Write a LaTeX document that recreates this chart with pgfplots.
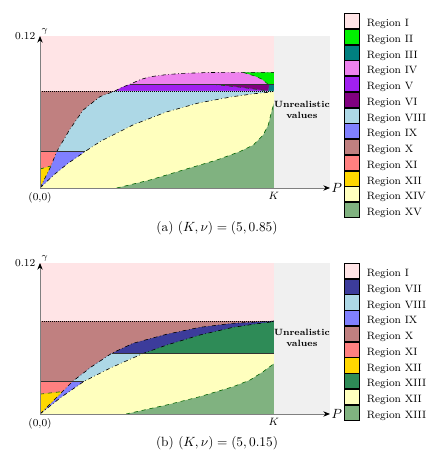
\documentclass[border=0pt]{standalone}
\usepackage{pgfplots}
\pgfplotsset{compat=1.18}
\usetikzlibrary{arrows.meta}
\definecolor{rI}{RGB}{255,228,230}
\definecolor{rII}{RGB}{0,240,0}
\definecolor{rIII}{RGB}{0,128,128}
\definecolor{rIV}{RGB}{238,130,238}
\definecolor{rV}{RGB}{160,32,240}
\definecolor{rVI}{RGB}{128,0,128}
\definecolor{rVII}{RGB}{60,60,155}
\definecolor{rVIII}{RGB}{173,216,230}
\definecolor{rIX}{RGB}{128,128,255}
\definecolor{rX}{RGB}{192,128,128}
\definecolor{rXI}{RGB}{255,128,128}
\definecolor{rXII}{RGB}{255,215,0}
\definecolor{rXIIId}{RGB}{46,139,87}
\definecolor{rXIV}{RGB}{255,255,190}
\definecolor{rXV}{RGB}{128,178,128}
\definecolor{unreal}{RGB}{240,240,240}
\definecolor{bgreen}{RGB}{0,100,0}
\pgfplotsset{
 panel/.style={
   scale only axis, width=217.5pt, xmin=0, xmax=6.2, ymin=0, ymax=0.12,
   axis lines=left,
   axis line style={draw=gray, line width=0.6pt, -{Stealth[black,length=5pt,width=4pt]}},
   xtick={0,5}, xticklabels={(0,0),$K$}, ytick={0.12}, yticklabels={$0.12$},
   major tick length=0pt, tick label style={font=\footnotesize},
   axis on top,
   every axis x label/.style={at={(axis description cs:1,0)}, anchor=west, font=\normalsize, inner sep=1pt},
   every axis y label/.style={at={(axis description cs:0,1)}, anchor=south west, font=\scriptsize, inner sep=1pt},
   xlabel={$P$}, ylabel={$\gamma$},
   legend cell align=left,
   legend image code/.code={\draw[##1,draw=black,line width=0.45pt] (0pt,-3.4pt) rectangle (11.25pt,7.96pt);},
   legend style={draw=none, fill=none, inner sep=0pt, outer sep=0pt, row sep=0pt, column sep=5.5pt,
     font=\fontsize{8}{9}\selectfont, nodes={inner sep=0pt, outer sep=0pt}, anchor=north west},
 },
 reg/.style={fill=#1, draw=none, forget plot},
 bnd/.style={forget plot, black, line width=0.45pt, dash dot},
 gbnd/.style={forget plot, bgreen, line width=0.45pt, dashed},
 sln/.style={forget plot, black!80, line width=0.6pt},
}
\begin{document}
\begin{tikzpicture}
\useasboundingbox (0,0) rectangle (323.25pt,344.25pt);
% ---------------- panel (a)
\begin{axis}[panel, height=114pt, at={(30pt,203.25pt)}, anchor=south west,
  legend style={at={(1.048,1.151)}}]
\addplot[reg=rI] coordinates {(0,0) (5,0) (5,0.12) (0,0.12)} -- cycle;
\addplot[reg=unreal] coordinates {(5,0) (6.2,0) (6.2,0.12) (5,0.12)} -- cycle;
\addplot[reg=rX] coordinates {(0,0) (5,0) (5,0.0766) (0,0.0766)} -- cycle;
% V
\addplot[reg=rV] coordinates {(1.603,0.0766) (1.75,0.0795) (1.92,0.0818) (5,0.0818) (5,0.0766)} -- cycle;
% IV
\addplot[reg=rIV] coordinates {(1.92,0.0818) (2.14,0.0855) (2.35,0.0878) (2.7,0.0895) (3.06,0.0905) (3.63,0.0912) (5,0.0913) (5,0.0818)} -- cycle;
% II
\addplot[reg=rII] coordinates {(4.34,0.0913) (5,0.0913) (5,0.0818) (4.88,0.0818) (4.74,0.0860) (4.59,0.0884)} -- cycle;
% VI
\addplot[reg=rVI] coordinates {(3.70,0.0818) (4.9,0.0818) (4.88,0.0766) (4.65,0.0778) (4.3,0.0795)} -- cycle;
% III
\addplot[reg=rIII] coordinates {(4.9,0.0818) (5,0.0818) (5,0.0766) (4.88,0.0766)} -- cycle;
% VIII
\addplot[reg=rVIII] coordinates {(0,0) (0.235,0.0174) (0.357,0.0287) (0.641,0.0465) (0.925,0.0616) (1.282,0.0721) (1.603,0.0766) (5,0.0766) (5,0)} -- cycle;
% XIV
\addplot[reg=rXIV] coordinates {(0,0) (0.3,0.0105) (0.6,0.0195) (0.96,0.0287) (1.3,0.037) (2.0,0.050) (2.7,0.060) (3.4,0.0672) (4.1,0.0720) (4.6,0.0745) (5,0.0760) (5,0)} -- cycle;
% XV
\addplot[reg=rXV] coordinates {(1.64,0) (2.35,0.0063) (3.06,0.0142) (3.78,0.0221) (4.27,0.0287) (4.56,0.0339) (4.77,0.0418) (4.88,0.0497) (4.95,0.0602) (5,0.0669) (5,0)} -- cycle;
% IX, XI, XII
\addplot[reg=rIX] coordinates {(0,0) (0.235,0.0174) (0.357,0.0287) (0.96,0.0287) (0.6,0.0195) (0.3,0.0105)} -- cycle;
\addplot[reg=rXI] coordinates {(0,0.0150) (0.235,0.0174) (0.357,0.0287) (0,0.0287)} -- cycle;
\addplot[reg=rXII] coordinates {(0,0) (0.235,0.0174) (0,0.0150)} -- cycle;
% boundaries
\addplot[bnd] coordinates {(0,0) (0.235,0.0174) (0.357,0.0287) (0.641,0.0465) (0.925,0.0616) (1.282,0.0721) (1.603,0.0766)};
\addplot[bnd] coordinates {(0,0) (0.3,0.0105) (0.6,0.0195) (0.96,0.0287) (1.3,0.037) (2.0,0.050) (2.7,0.060) (3.4,0.0672) (4.1,0.0720) (4.6,0.0745) (5,0.0760)};
\addplot[bnd] coordinates {(1.603,0.0766) (1.75,0.0795) (1.92,0.0818) (2.14,0.0855) (2.35,0.0878) (2.7,0.0895) (3.06,0.0905) (3.63,0.0912) (5,0.0913)};
\addplot[forget plot, black, line width=0.5pt, densely dotted] coordinates {(0,0.0766) (5,0.0766)};
\addplot[gbnd] coordinates {(1.64,0) (2.35,0.0063) (3.06,0.0142) (3.78,0.0221) (4.27,0.0287) (4.56,0.0339) (4.77,0.0418) (4.88,0.0497) (4.95,0.0602) (5,0.0669)};
\addplot[gbnd] coordinates {(4.34,0.0913) (4.59,0.0884) (4.74,0.0860) (4.88,0.0818)};
\addplot[gbnd] coordinates {(3.70,0.0818) (4.3,0.0795) (4.65,0.0778) (4.88,0.0766)};
\addplot[gbnd] coordinates {(0,0.0150) (0.235,0.0174)};
\addplot[sln] coordinates {(0,0.0287) (0.96,0.0287)};
\addplot[sln] coordinates {(1.92,0.0818) (5,0.0818)};
\node[font=\fontsize{6.8}{8}\selectfont\bfseries, align=center] at (axis cs:5.6,0.0616) {Unrealistic\\values};
\addlegendimage{fill=rI}\addlegendentry{Region I}
\addlegendimage{fill=rII}\addlegendentry{Region II}
\addlegendimage{fill=rIII}\addlegendentry{Region III}
\addlegendimage{fill=rIV}\addlegendentry{Region IV}
\addlegendimage{fill=rV}\addlegendentry{Region V}
\addlegendimage{fill=rVI}\addlegendentry{Region VI}
\addlegendimage{fill=rVIII}\addlegendentry{Region VIII}
\addlegendimage{fill=rIX}\addlegendentry{Region IX}
\addlegendimage{fill=rX}\addlegendentry{Region X}
\addlegendimage{fill=rXI}\addlegendentry{Region XI}
\addlegendimage{fill=rXII}\addlegendentry{Region XII}
\addlegendimage{fill=rXIV}\addlegendentry{Region XIV}
\addlegendimage{fill=rXV}\addlegendentry{Region XV}
\end{axis}
% ---------------- panel (b)
\begin{axis}[panel, height=113.25pt, at={(30pt,33.75pt)}, anchor=south west,
  legend style={at={(1.048,1.0)}}]
\addplot[reg=rI] coordinates {(0,0) (5,0) (5,0.12) (0,0.12)} -- cycle;
\addplot[reg=unreal] coordinates {(5,0) (6.2,0) (6.2,0.12) (5,0.12)} -- cycle;
\addplot[reg=rX] coordinates {(0,0) (5,0) (5,0.0739) (0,0.0739)} -- cycle;
% VII
\addplot[reg=rVII] coordinates {(0,0) (0.48,0.0178) (0.69,0.0257) (1.1,0.0375) (1.53,0.0482) (1.99,0.0562) (2.71,0.0634) (3.42,0.0689) (4.13,0.0721) (4.77,0.0734) (5,0.0739) (5,0)} -- cycle;
% XIII dark
\addplot[reg=rXIIId] coordinates {(0,0) (0.45,0.0133) (0.93,0.0257) (1.5,0.0365) (2.21,0.0482) (2.71,0.0548) (3.42,0.0628) (4.13,0.0689) (4.6,0.0715) (5,0.0734) (5,0)} -- cycle;
% VIII
\addplot[reg=rVIII] coordinates {(0,0) (0.48,0.0178) (0.69,0.0257) (1.1,0.0375) (1.53,0.0482) (5,0.0482) (5,0)} -- cycle;
% XII light yellow
\addplot[reg=rXIV] coordinates {(0,0) (0.45,0.0133) (0.93,0.0257) (1.5,0.0365) (2.21,0.0482) (5,0.0482) (5,0)} -- cycle;
% XIII light green
\addplot[reg=rXV] coordinates {(1.84,0) (2.71,0.0072) (3.42,0.0138) (4.13,0.0217) (4.49,0.0270) (4.77,0.0336) (5,0.0400) (5,0)} -- cycle;
% IX, XI, XII
\addplot[reg=rIX] coordinates {(0,0) (0.48,0.0178) (0.69,0.0257) (0.93,0.0257) (0.45,0.0133)} -- cycle;
\addplot[reg=rXI] coordinates {(0,0.0158) (0.48,0.0178) (0.69,0.0257) (0,0.0257)} -- cycle;
\addplot[reg=rXII] coordinates {(0,0) (0.48,0.0178) (0,0.0158)} -- cycle;
% boundaries
\addplot[bnd] coordinates {(0,0) (0.48,0.0178) (0.69,0.0257) (1.1,0.0375) (1.53,0.0482) (1.99,0.0562) (2.71,0.0634) (3.42,0.0689) (4.13,0.0721) (4.77,0.0734) (5,0.0739)};
\addplot[bnd] coordinates {(0,0) (0.45,0.0133) (0.93,0.0257) (1.5,0.0365) (2.21,0.0482) (2.71,0.0548) (3.42,0.0628) (4.13,0.0689) (4.6,0.0715) (5,0.0734)};
\addplot[forget plot, black, line width=0.5pt, densely dotted] coordinates {(0,0.0739) (5,0.0739)};
\addplot[gbnd] coordinates {(1.84,0) (2.71,0.0072) (3.42,0.0138) (4.13,0.0217) (4.49,0.0270) (4.77,0.0336) (5,0.0400)};
\addplot[gbnd] coordinates {(0,0.0158) (0.48,0.0178)};
\addplot[sln] coordinates {(0,0.0257) (0.93,0.0257)};
\addplot[sln] coordinates {(1.53,0.0482) (5,0.0482)};
\node[font=\fontsize{6.8}{8}\selectfont\bfseries, align=center] at (axis cs:5.6,0.0607) {Unrealistic\\values};
\addlegendimage{fill=rI}\addlegendentry{Region I}
\addlegendimage{fill=rVII}\addlegendentry{Region VII}
\addlegendimage{fill=rVIII}\addlegendentry{Region VIII}
\addlegendimage{fill=rIX}\addlegendentry{Region IX}
\addlegendimage{fill=rX}\addlegendentry{Region X}
\addlegendimage{fill=rXI}\addlegendentry{Region XI}
\addlegendimage{fill=rXII}\addlegendentry{Region XII}
\addlegendimage{fill=rXIIId}\addlegendentry{Region XIII}
\addlegendimage{fill=rXIV}\addlegendentry{Region XII}
\addlegendimage{fill=rXV}\addlegendentry{Region XIII}
\end{axis}
\node[font=\fontsize{10}{12}\selectfont] at (162.75pt,173.25pt) {(a) $(K,\nu)=(5,0.85)$};
\node[font=\fontsize{10}{12}\selectfont] at (162.75pt,12pt) {(b) $(K,\nu)=(5,0.15)$};
\end{tikzpicture}
\end{document}
